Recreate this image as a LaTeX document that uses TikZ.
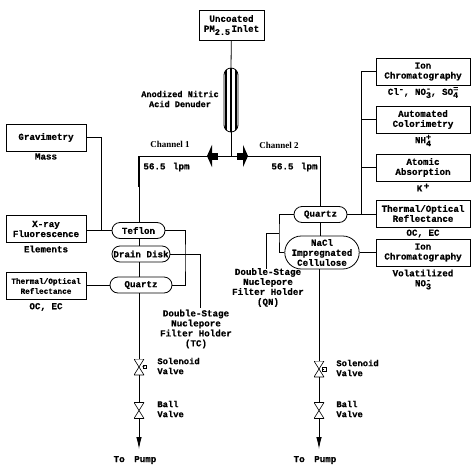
\documentclass[tikz,border=0pt]{standalone}
\usepackage{fontspec}
\setmainfont{Liberation Mono}[BoldFeatures={FakeBold=0.6}]
\newfontfamily\chfont{Liberation Serif}
\usetikzlibrary{positioning, calc, arrows.meta, shapes.misc}
\newcommand{\lowr}[1]{\raisebox{-3pt}{\fontsize{8.4}{8.4}\selectfont #1}}
\newcommand{\lowup}[2]{\lowr{#1}\llap{\raisebox{3.5pt}{\fontsize{8.4}{8.4}\selectfont #2}}}
\tikzset{
    lbl/.style={align=center, inner sep=0pt},
    valvelbl/.style={align=left, inner sep=0pt, anchor=west, on grid=false, font=\bfseries\fontsize{8.8}{10}\selectfont},
    instbox/.style={draw, fill=white, lbl, minimum width=80pt, minimum height=27pt},
    instboxR/.style={instbox, minimum width=94pt},
    filterpill/.style={draw, fill=white, rounded rectangle, lbl, minimum height=16pt},
    valve/.style={minimum width=10pt, minimum height=16pt, inner sep=0pt,
        path picture={\draw[line width=0.6pt] (path picture bounding box.north west) -- (path picture bounding box.north east)
            -- (path picture bounding box.south west) -- (path picture bounding box.south east) -- cycle;}},
    flag/.style={draw, line width=0.5pt, minimum size=3.5pt, inner sep=0pt},
    fat/.style={line width=7pt, -{Triangle[length=5pt, width=22pt]}},
    topump/.style={-{Latex[length=12pt, width=5.5pt]}},
}
\begin{document}
\begin{tikzpicture}[x=1pt, y=-1pt, on grid, line width=0.8pt, every node/.style={font=\bfseries\fontsize{9.2}{10}\selectfont}]
    \useasboundingbox (0,0) rectangle (474,469);

    % inlet and denuder
    \node[draw, lbl, minimum width=65pt, minimum height=30pt] (inlet) at (231.5,25) {Uncoated\\PM\lowr{2.5}\,Inlet};
    \node[draw, fill=white, rounded rectangle, rotate=90, minimum width=64pt, minimum height=14pt, inner sep=0pt,
        path picture={\foreach \y in {-5,0,5} \draw[line width=1.4pt] ($(path picture bounding box.center)+(-40pt,\y pt)$) -- ++(80pt,0pt);}] (denuder) at (231,100) {};
    \node[lbl, font=\bfseries\fontsize{8.6}{10}\selectfont] (denuderlbl) at (180,99) {Anodized Nitric\\Acid Denuder};
    \coordinate (split) at (231,156);
    \coordinate (ch1) at (139,156);
    \coordinate (ch2) at (320,156);
    \coordinate (ch1thick) at (139,187);
    \node[lbl, font=\chfont\bfseries\fontsize{9}{10}\selectfont] (ch1lbl) at (170,144) {Channel 1};
    \node[lbl, font=\chfont\bfseries\fontsize{9}{10}\selectfont] (ch2lbl) at (279,145) {Channel 2};
    \node[lbl] (flow1) at (166.5,167) {56.5\hspace{2pt} lpm};
    \node[lbl] (flow2) at (294.5,167) {56.5\hspace{2pt} lpm};
    \coordinate (fatLa) at (218,156);
    \coordinate (fatLb) at (207,156);
    \coordinate (fatRa) at (237,156);
    \coordinate (fatRb) at (248,156);

    % channel 1
    \node[instbox] (grav) at (46,137.5) {Gravimetry};
    \node[lbl] (mass) [below=19pt of grav] {Mass};
    \node[instbox] (xrf) [below=91.5pt of grav] {X-ray\\Fluorescence};
    \node[lbl] (elements) [below=20pt of xrf] {Elements};
    \node[instbox, font=\bfseries\fontsize{7.7}{10}\selectfont] (top1) [below=57pt of xrf] {Thermal/Optical\\Reflectance};
    \node[lbl] (oc1) [below=21pt of top1] {OC, EC};
    \node[filterpill, minimum width=53pt] (teflon) at (138.5,230.5) {Teflon};
    \node[filterpill, minimum width=58pt] (drain) at (141,254) {Drain Disk};
    \node[filterpill, minimum width=62pt] (quartz1) at (141,285) {Quartz};
    \node[lbl] (holder1) at (196,329) {Double-Stage\\Nuclepore\\Filter Holder\\(TC)};
    \coordinate (gravbus) at (101,230.5);
    \coordinate (tefbus) at (185,258);
    \coordinate (draindrop) at (200,308);
    \node[valve] (sv1) at (139,367) {};
    \node[flag] (sv1flag) at (144.5,366.5) {};
    \node[valve] (bv1) at (139,410.5) {};
    \coordinate (pump1) at (139,449);
    \node[lbl] (pump1lbl) at (135,460) {To\hspace{4pt} Pump};
    \node[valvelbl] (sv1lbl) at (157,366) {Solenoid\\Valve};
    \node[valvelbl] (bv1lbl) at (157,409) {Ball\\Valve};

    % channel 2
    \node[instboxR] (ic1) at (423,71.5) {Ion\\Chromatography};
    \node[lbl] (ic1lbl) [below=21pt of ic1] {Cl\raisebox{3pt}{\fontsize{8.4}{8.4}\selectfont-}, NO\lowup{3}{-}, SO\lowup{4}{=}};
    \node[instboxR] (color) [below=48pt of ic1] {Automated\\Colorimetry};
    \node[lbl] (nh4) [below=21pt of color] {NH\lowup{4}{+}};
    \node[instboxR] (atomic) [below=48pt of color] {Atomic\\Absorption};
    \node[lbl] (kplus) [below=20pt of atomic] {K\,\raisebox{2.5pt}{+}};
    \node[instboxR] (top2) [below=46pt of atomic] {Thermal/Optical\\Reflectance};
    \node[lbl] (oc2) [below=20pt of top2] {OC, EC};
    \node[instboxR] (ic2) [below=39pt of top2] {Ion\\Chromatography};
    \node[lbl] (vol) [below=27pt of ic2] {Volatilized\\NO\lowup{3}{-}};
    \node[filterpill, minimum width=53pt] (quartz2) at (320.5,214.5) {Quartz};
    \node[filterpill, minimum width=70pt, minimum height=33pt] (nacl) at (322,252.5) {NaCl\\Impregnated\\Cellulose};
    \node[lbl] (holder2) at (268,287.5) {Double-Stage\\Nuclepore\\Filter Holder\\(QN)};
    \coordinate (icbus) at (361.5,214.5);
    \coordinate (qzbus) at (279,233);
    \coordinate (qzdrop) at (266,269);
    \node[valve] (sv2) at (319,369) {};
    \node[flag] (sv2flag) at (324,369) {};
    \node[valve] (bv2) at (319,410.5) {};
    \coordinate (pump2) at (319,449);
    \node[lbl] (pump2lbl) at (315,460) {To\hspace{4pt} Pump};
    \node[valvelbl] (sv2lbl) at (336,368) {Solenoid\\Valve};
    \node[valvelbl] (bv2lbl) at (336,409) {Ball\\Valve};

    \draw (inlet) -- (denuder.east);
    \draw (denuder.west) -- (split);
    \draw (ch1 |- teflon.north) -- (ch1) -- (ch2) -- (ch2 |- quartz2.north);
    \draw[line width=1.7pt] (ch1) -- (ch1thick);
    \draw[fat] (fatLa) -- (fatLb);
    \draw[fat] (fatRa) -- (fatRb);

    \draw (grav.east) -| (gravbus);
    \draw (xrf.east |- teflon) -- (teflon.west);
    \draw (top1.east |- quartz1) -- (quartz1.west);
    \draw (teflon.east) -| (tefbus) |- (quartz1.east);
    \draw (drain.east) -| (draindrop);
    \foreach \a/\b in {teflon/drain, drain/quartz1} \draw (ch1 |- \a.south) -- (ch1 |- \b.north);
    \draw (ch1 |- quartz1.south) -- (sv1);
    \draw (sv1) -- (sv1flag);
    \draw (sv1) -- (bv1);
    \draw[topump] (bv1) -- (pump1);

    \foreach \b in {ic1, color, atomic} \draw (\b.west) -| (icbus);
    \draw (quartz2.east) -- (top2.west |- quartz2);
    \draw (nacl.east) -- (ic2.west |- nacl);
    \draw (quartz2.west) -| (qzbus) |- (nacl.west);
    \draw (qzbus) -| (qzdrop);
    \draw (ch2 |- quartz2.south) -- (ch2 |- nacl.north);
    \draw (sv2 |- nacl.south) -- (sv2);
    \draw (sv2) -- (sv2flag);
    \draw (sv2) -- (bv2);
    \draw[topump] (bv2) -- (pump2);
\end{tikzpicture}
\end{document}
